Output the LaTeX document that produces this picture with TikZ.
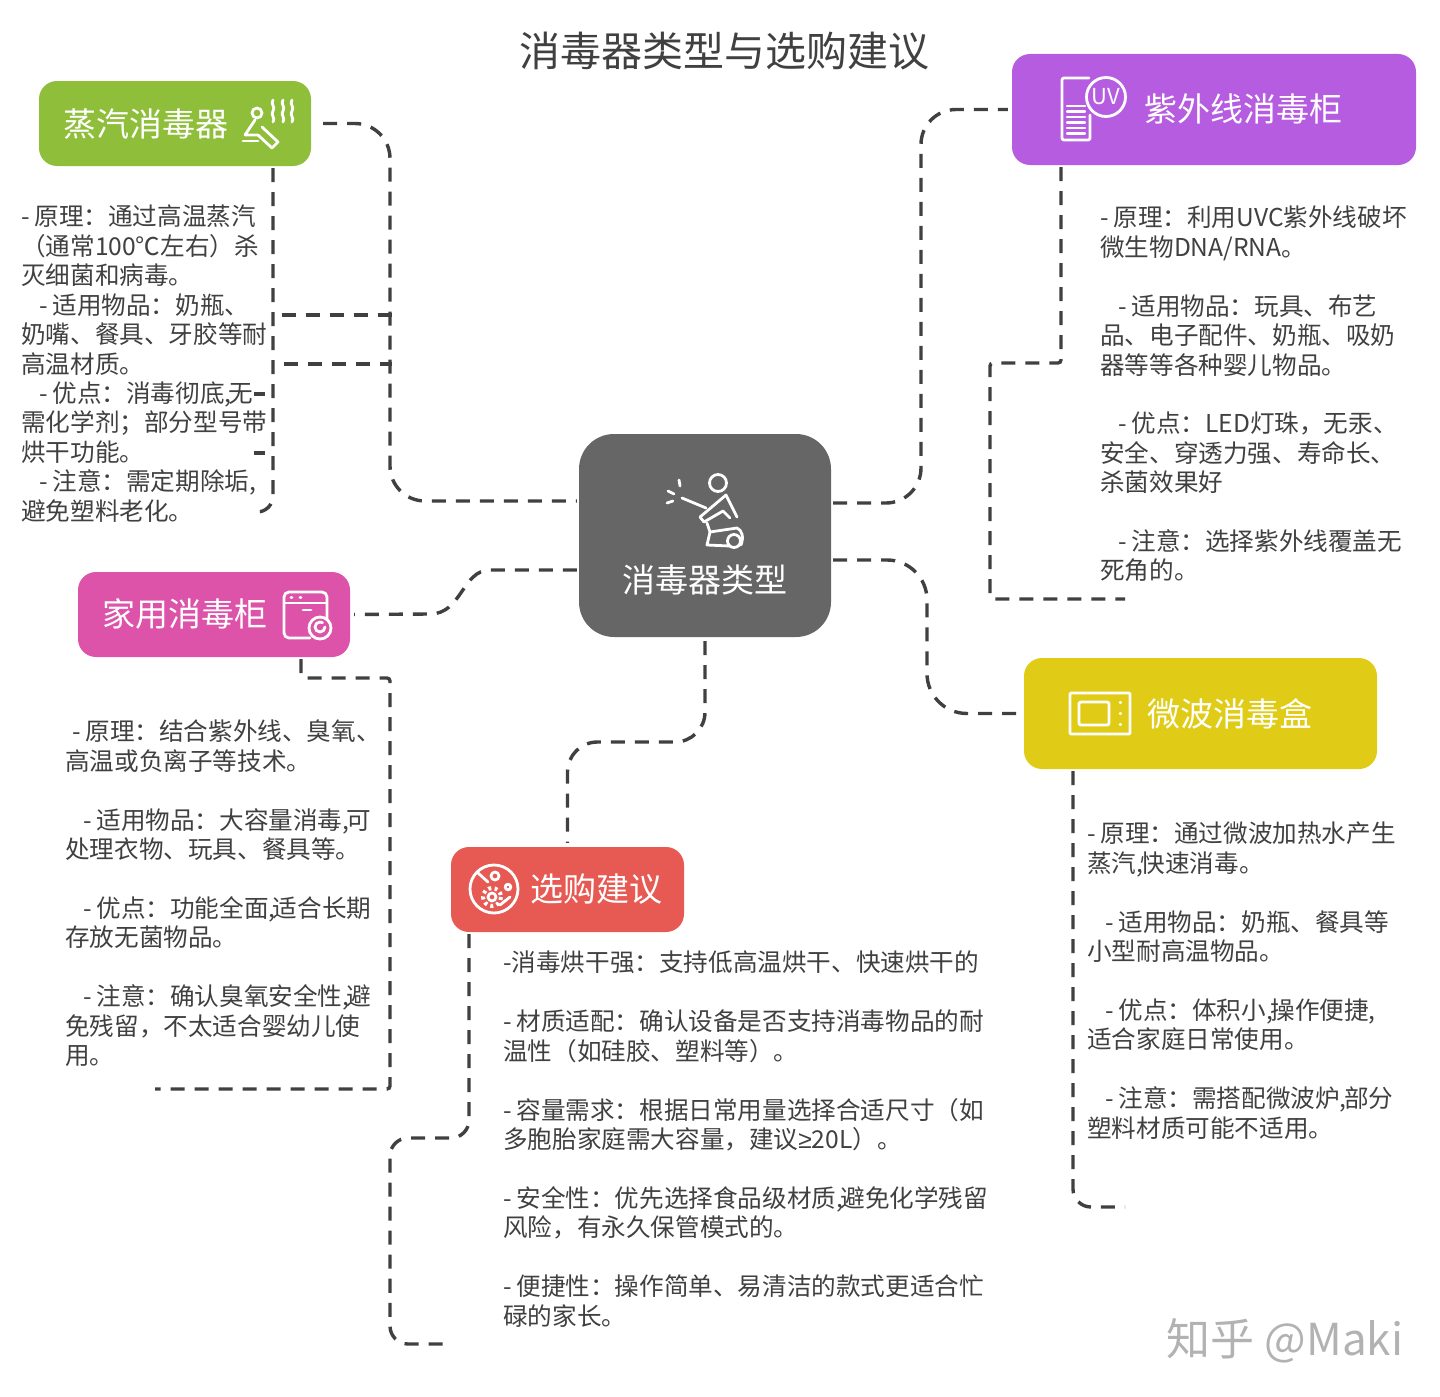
\documentclass[tikz,border=0pt]{standalone}
\usepackage{fontspec}
\setmainfont{Noto Sans CJK SC}
\newfontfamily\symfont{Liberation Sans}
\usetikzlibrary{calc}
\definecolor{ink}{HTML}{404040}
\definecolor{green1}{HTML}{8FBE3A}
\definecolor{pink1}{HTML}{DD53A9}
\definecolor{purple1}{HTML}{B65CE0}
\definecolor{red1}{HTML}{E75A53}
\definecolor{yellow1}{HTML}{E0CC16}
\definecolor{grey1}{HTML}{666666}
\tikzset{
  conn/.style={draw=ink,line width=3.4pt,dash pattern=on 14pt off 10pt,rounded corners=#1},
  conn/.default=35pt,
  box/.style={rounded corners=#1,inner sep=0pt,draw=none},
  box/.default=18pt,
  body/.style={anchor=north west,inner sep=0pt,align=left,text=ink,font=\fontsize{24.6}{29.42}\selectfont},
  head/.style={anchor=center,inner sep=0pt,text=white,font=\fontsize{33}{38}\selectfont},
  icon/.style={draw=white,line width=2.8pt,line cap=round,line join=round}
}
\newcommand{\ind}{\hspace*{18pt}}
\newcommand{\dd}{-\kern-0.7pt\ }
\newcommand{\cm}{,\kern-2.6pt}
\newcommand{\gp}{\\[29.42pt]}
\begin{document}
\begin{tikzpicture}[x=1pt,y=-1pt]
\useasboundingbox (0,0) rectangle (1440,1397);
% boxes
\node[box=35pt,fill=grey1,minimum width=252pt,minimum height=203pt] (center) at (705,535.5) {};
\node[box,fill=green1,minimum width=272pt,minimum height=85pt] (steam) at (175,123.5) {};
\node[box,fill=pink1,minimum width=272pt,minimum height=85pt] (home) at (214,614.5) {};
\node[box,fill=purple1,minimum width=404pt,minimum height=111pt] (uv) at (1214,109.5) {};
\node[box,fill=yellow1,minimum width=353pt,minimum height=111pt] (micro) at (1200.5,713.5) {};
\node[box,fill=red1,minimum width=233pt,minimum height=85pt] (buy) at (567.5,889.5) {};
% title and heads
\node[inner sep=0pt,text=ink,font=\fontsize{41}{48}\selectfont] (title) at (724,51) {消毒器类型与选购建议};
\node[head] (centerT) at (705,580) {消毒器类型};
\node[head] (steamT) at (145.5,124) {蒸汽消毒器};
\node[head] (homeT) at (184.5,614) {家用消毒柜};
\node[head] (uvT) at (1243,109) {紫外线消毒柜};
\node[head] (microT) at (1229.5,714) {微波消毒盒};
\node[head] (buyT) at (596,889) {选购建议};
% bodies
\node[body] (steamB) at (21,205) {\dd 原理：通过高温蒸汽\\（通常100℃左右）杀\\灭细菌和病毒。\\\ind \dd 适用物品：奶瓶、\\奶嘴、餐具、牙胶等耐\\高温材质。\\\ind \dd 优点：消毒彻底\cm 无\\需化学剂；部分型号带\\烘干功能。\\\ind \dd 注意：需定期除垢\cm\\避免塑料老化。};
\node[body] (uvB) at (1100,206) {\dd 原理：利用UVC紫外线破坏\\微生物DNA/RNA。\gp\ind \dd 适用物品：玩具、布艺\\品、电子配件、奶瓶、吸奶\\器等等各种婴儿物品。\gp\ind \dd 优点：LED灯珠，无汞、\\安全、穿透力强、寿命长、\\杀菌效果好\gp\ind \dd 注意：选择紫外线覆盖无\\死角的。};
\node[body] (microB) at (1087,822) {\dd 原理：通过微波加热水产生\\蒸汽\cm 快速消毒。\gp\ind \dd 适用物品：奶瓶、餐具等\\小型耐高温物品。\gp\ind \dd 优点：体积小\cm 操作便捷\cm\\适合家庭日常使用。\gp\ind \dd 注意：需搭配微波炉\cm 部分\\塑料材质可能不适用。};
\node[body] (homeB) at (65,720) {\hspace*{7pt}\dd 原理：结合紫外线、臭氧、\\高温或负离子等技术。\gp\ind \dd 适用物品：大容量消毒\cm 可\\处理衣物、玩具、餐具等。\gp\ind \dd 优点：功能全面\cm 适合长期\\存放无菌物品。\gp\ind \dd 注意：确认臭氧安全性\cm 避\\免残留，不太适合婴幼儿使\\用。};
\node[body] (buyB) at (503,951) {-消毒烘干强：支持低高温烘干、快速烘干的\gp\dd 材质适配：确认设备是否支持消毒物品的耐\\温性（如硅胶、塑料等）。\gp\dd 容量需求：根据日常用量选择合适尺寸（如\\多胞胎家庭需大容量，建议{\symfont ≥}20L）。\gp\dd 安全性：优先选择食品级材质\cm 避免化学残留\\风险，有永久保管模式的。\gp\dd 便捷性：操作简单、易清洁的款式更适合忙\\碌的家长。};
% watermark
\node[inner sep=0pt,text=black!30,font=\fontsize{44}{50}\selectfont] (mark) at (1285,1341) {知乎 @Maki};
% connector coordinates
\coordinate (a1) at (390,501);
\coordinate (b1) at (921,503);
\coordinate (c1) at (927,560);
\coordinate (d1) at (705,742);
\coordinate (e1) at (490,570);
\coordinate (e2) at (430,614);
\coordinate (s1) at (273,512);
\coordinate (s2) at (250,512);
\coordinate (s3) at (282,315);
\coordinate (s4) at (392,315);
\coordinate (s5) at (284,364);
\coordinate (s6) at (392,364);
\coordinate (s7) at (265,394);
\coordinate (s8) at (254,394);
\coordinate (s9) at (265,453);
\coordinate (s10) at (254,453);
\coordinate (u1) at (1061,363);
\coordinate (u2) at (990,363);
\coordinate (u3) at (990,599);
\coordinate (u4) at (1125,599);
\coordinate (m1) at (1073,1207);
\coordinate (m2) at (1125,1207);
\coordinate (h1) at (301,678);
\coordinate (h2) at (390,678);
\coordinate (h3) at (390,1089);
\coordinate (h4) at (155,1089);
\coordinate (p1) at (469,1138);
\coordinate (p2) at (390,1138);
\coordinate (p3) at (390,1344);
\coordinate (p4) at (445,1344);
% connectors from the centre
\draw[conn,shorten >=2pt,shorten <=12pt] (steam.east) -- (a1 |- steam.east) -- (a1) -- (center.west |- a1);
\draw[conn,shorten <=2pt,shorten >=4pt] (center.east |- b1) -- (b1) -- (b1 |- uv.west) -- (uv.west);
\draw[conn=40pt,shorten <=2pt,shorten >=6pt] (center.east |- c1) -- (c1) -- (c1 |- micro.west) -- (micro.west);
\draw[conn=30pt,shorten <=4pt,shorten >=4pt] (center.south) -- (d1) -- (d1 -| buy.north) -- (buy.north);
\draw[draw=ink,line width=3.4pt,dash pattern=on 14pt off 10pt,shorten <=2pt,shorten >=4pt] (center.west |- e1) -- (e1) .. controls (462,570) and (462,614) .. (e2) -- (home.east);
% branches
\draw[conn=16pt,shorten <=2pt] (s1 |- steam.south) -- (s1) -- (s2);
\draw[conn=1pt] (s3) -- (s4);
\draw[conn=1pt] (s5) -- (s6);
\draw[conn=1pt] (s7) -- (s8);
\draw[conn=1pt] (s9) -- (s10);
\draw[conn=3pt,shorten <=2pt] (u1 |- uv.south) -- (u1) -- (u2) -- (u3) -- (u4);
\draw[conn=18pt,shorten <=2pt] (m1 |- micro.south) -- (m1) -- (m2);
\draw[conn=3pt,shorten <=2pt] (h1 |- home.south) -- (h1) -- (h2) -- (h3) -- (h4);
\draw[conn=18pt,shorten <=2pt] (p1 |- buy.south) -- (p1) -- (p2) -- (p3) -- (p4);
\begin{scope}[icon]
% icon: centre
\draw (718,483) circle (8.5);
\draw (682,498) -- (706,508);
\draw (679,480) -- (680,486);
\draw (668,491) -- (674,494);
\draw (667,503) -- (673,501);
\draw (737,517) -- (726,495) -- (700,517) -- (704,522) -- (723,511) -- (730,518);
\draw (707,523) -- (710,532) -- (707,545) -- (730,546);
\draw (710,532) -- (737,528) .. controls (742,530) and (744,537) .. (741,545);
\draw (734,541) circle (6.5);
% icon: steam
\draw (257,113) circle (5);
\draw (255,120) -- (245,135) -- (258,135);
\draw (262,127) -- (278,142) -- (272,148) -- (258,135);
\draw (243,141) -- (258,141);
\foreach \wx in {273,283,292} \draw (\wx,100) .. controls (\wx-3,104) and (\wx+3,107) .. (\wx,111) .. controls (\wx-3,115) and (\wx+3,118) .. (\wx,122);
% icon: uv
\draw[rounded corners=2pt] (1089,78) -- (1062,78) -- (1062,140) -- (1090,140) -- (1090,115);
\foreach \uy in {106,111.5,117,122.5,128,133.5} \draw[line width=2.2pt] (1067,\uy) -- (1085,\uy);
\draw[fill=purple1] (1106,97) circle (19.5);
\node[draw=none,inner sep=0pt,text=white,font=\fontsize{22}{22}\selectfont] (uvI) at (1105.5,96.5) {UV};
% icon: home
\draw[rounded corners=5pt] (320,623) -- (327,623) -- (327,592) -- (284,592) -- (284,638) -- (310,638);
\draw (284,603) -- (327,603);
\draw (291,597.5) -- (292,597.5);
\draw (300,597.5) -- (301,597.5);
\draw (303,610) -- (311,610);
\draw[fill=pink1] (320,628) circle (11);
\draw (325,627) arc (0:300:5);
% icon: micro
\draw[rounded corners=1pt] (1070,693) rectangle (1130,734);
\draw[rounded corners=2pt] (1079,702) rectangle (1109,725);
\foreach \my in {702,713,724} \draw[line width=3pt] (1120,\my) -- (1120.5,\my);
% icon: buy
\draw (494,889) circle (24);
\draw (478,873) -- (488,882);
\draw (495,876) circle (4);
\draw (508,887) circle (2.8);
\draw (492,897) circle (4);
\draw[line width=4pt,dash pattern=on 3pt off 3.4pt,line cap=butt] (492,897) circle (9);
\draw (500,905) -- (510,897);
\end{scope}
\end{tikzpicture}
\end{document}
